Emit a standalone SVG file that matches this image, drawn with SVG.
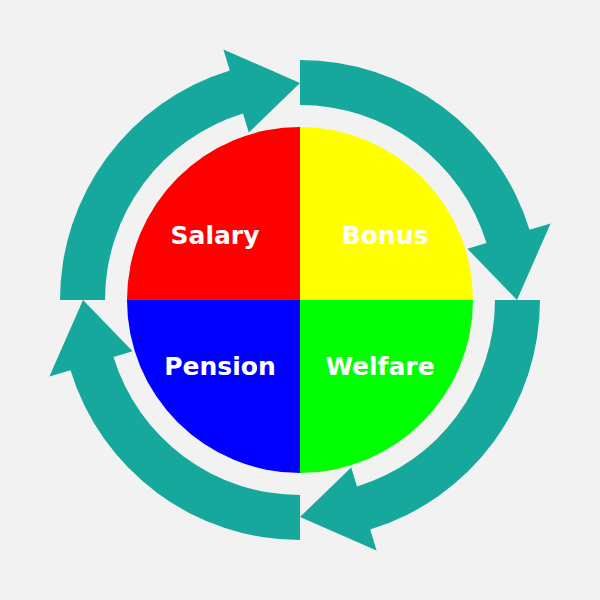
<svg xmlns="http://www.w3.org/2000/svg" width="600" height="600" viewBox="0 0 600 600">
<style>
.arr{fill:#16a89c}
.lbl{fill:#fff;font-family:"DejaVu Sans",sans-serif;font-weight:bold;font-size:25px;text-anchor:middle}
</style>
<defs>
<path id="a" class="arr" d="M300,60 A240,240 0 0 1 529.5,229.8 L550.6,223.4 L517,300 L467.4,248.8 L486.5,243 A195,195 0 0 0 300,105 Z"/>
</defs>
<rect width="600" height="600" fill="#f2f2f2"/>
<g id="connectors">
<use href="#a"/>
<use href="#a" transform="rotate(90 300 300)"/>
<use href="#a" transform="rotate(180 300 300)"/>
<use href="#a" transform="rotate(270 300 300)"/>
</g>
<g id="salary"><path d="M300,300 L127,300 A173,173 0 0 1 300,127 Z" fill="#ff0000"/><text class="lbl" x="215" y="244">Salary</text></g>
<g id="bonus"><path d="M300,300 L300,127 A173,173 0 0 1 473,300 Z" fill="#ffff00"/><text class="lbl" x="385" y="244">Bonus</text></g>
<g id="welfare"><path d="M300,300 L473,300 A173,173 0 0 1 300,473 Z" fill="#00ff00"/><text class="lbl" x="380" y="375">Welfare</text></g>
<g id="pension"><path d="M300,300 L300,473 A173,173 0 0 1 127,300 Z" fill="#0000ff"/><text class="lbl" x="220" y="375">Pension</text></g>
</svg>
